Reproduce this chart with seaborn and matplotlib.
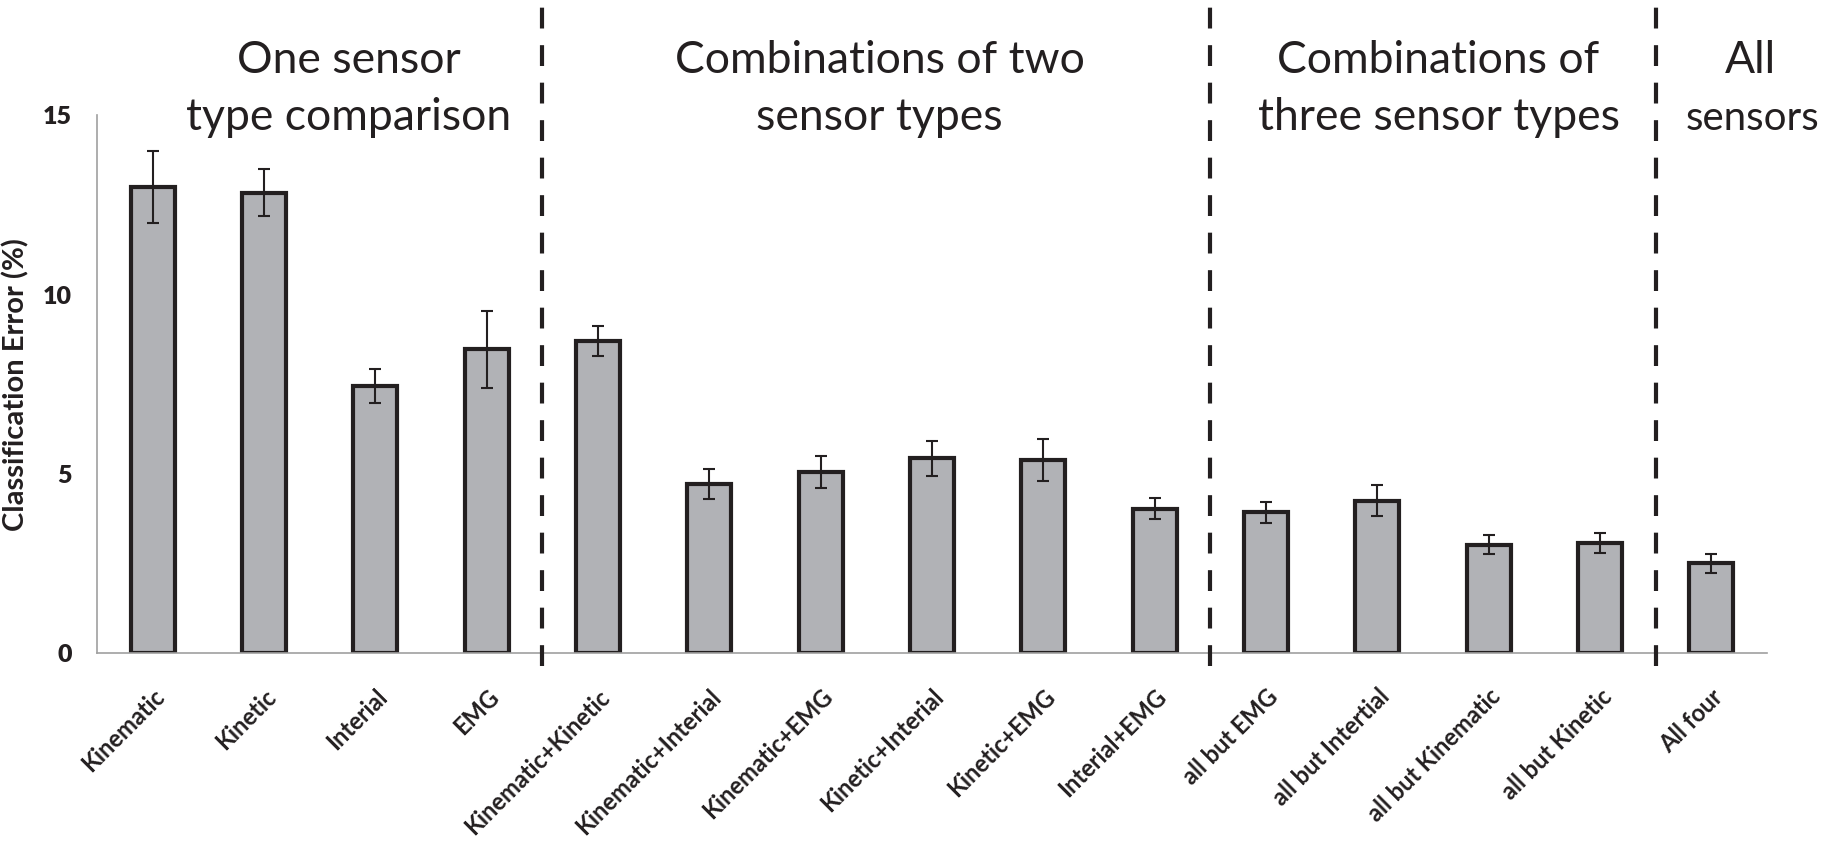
import numpy as np
import pandas as pd
import matplotlib
matplotlib.use("Agg")
import matplotlib.pyplot as plt
import matplotlib.transforms as mtransforms
import seaborn as sns

# values
labels = ["Kinematic", "Kinetic", "Interial", "EMG",
          "Kinematic+Kinetic", "Kinematic+Interial", "Kinematic+EMG",
          "Kinetic+Interial", "Kinetic+EMG", "Interial+EMG",
          "all but EMG", "all but Intertial", "all but Kinematic",
          "all but Kinetic", "All four"]
error_pct = [13.0, 12.85, 7.45, 8.47,
             8.70, 4.71, 5.06, 5.43, 5.39, 4.03,
             3.93, 4.25, 3.02, 3.08, 2.50]
error_sd = [1.0, 0.65, 0.48, 1.07,
            0.42, 0.42, 0.45, 0.50, 0.58, 0.30,
            0.29, 0.44, 0.26, 0.28, 0.26]

# group headings: (first line, second line), centred over these category positions
group_titles = [("One sensor", "type comparison"),
                ("Combinations of two", "sensor types"),
                ("Combinations of", "three sensor types")]
group_centers = [1.76, 6.53, 11.55]
group_breaks = [3.5, 9.5, 13.5]

ink = "#231f20"
bar_grey = "#b1b2b6"
axis_grey = "#a0a0a0"

sns.set_style("white")
plt.rcParams["font.family"] = ["Lato", "DejaVu Sans"]

df = pd.DataFrame({"label": labels, "err": error_pct, "sd": error_sd})

fig = plt.figure(figsize=(18.25, 8.41), dpi=100)
ax = fig.add_axes([0.0531, 0.2235, 0.9151, 0.6392])

sns.barplot(data=df, x="label", y="err", color=bar_grey, saturation=1,
            edgecolor=ink, linewidth=3.0, width=0.395, errorbar=None, ax=ax)
ax.errorbar(np.arange(len(labels)), df["err"], yerr=df["sd"], fmt="none",
            ecolor=ink, elinewidth=1.5, capsize=4.5, capthick=1.5, zorder=5)

ax.set_xlim(-0.5, len(labels) - 0.5)
ax.set_ylim(0, 15)
ax.set_yticks([0, 5, 10, 15])
ax.set_yticklabels(["0", "5", "10", "15"], fontsize=18, fontweight="heavy", color=ink)
ax.set_ylabel("Classification Error (%)", fontsize=21, fontweight="bold",
              color=ink, labelpad=10)
ax.set_xlabel("")

ax.set_xticks(np.arange(len(labels)))
ax.set_xticklabels(labels, rotation=45, ha="right", rotation_mode="anchor",
                   fontsize=17, fontweight="bold", color=ink)
ax.set_xticks(np.arange(-0.5, len(labels)), minor=True)
ax.tick_params(axis="x", which="major", length=0, pad=23)
ax.tick_params(axis="x", which="minor", length=9, width=1.2, color=axis_grey)
ax.tick_params(axis="y", which="major", length=7, width=1.2, color=axis_grey, pad=11)

for side in ["top", "right"]:
    ax.spines[side].set_visible(False)
for side in ["left", "bottom"]:
    ax.spines[side].set_color(axis_grey)
    ax.spines[side].set_linewidth(1.2)

# dashed separators between sensor groups, running up to the top of the figure
for xb in group_breaks:
    ax.plot([xb, xb], [-0.35, 18.4], color=ink, lw=3.0, ls=(0, (5, 4)),
            clip_on=False, zorder=6)

# headings: x in data units, y in figure fraction (baselines)
head_tr = mtransforms.blended_transform_factory(ax.transData, fig.transFigure)
line1_y, line2_y = 0.913, 0.845
for (l1, l2), xc in zip(group_titles, group_centers):
    ax.text(xc, line1_y, l1, transform=head_tr, ha="center", va="baseline",
            fontsize=32, color=ink, clip_on=False)
    ax.text(xc, line2_y, l2, transform=head_tr, ha="center", va="baseline",
            fontsize=32, color=ink, clip_on=False)
ax.text(14.35, line1_y, "All", transform=head_tr, ha="center", va="baseline",
        fontsize=32, color=ink, clip_on=False)
# last heading sits against the right edge of the figure
ax.text(0.997, line2_y, "sensors", transform=fig.transFigure, ha="right",
        va="baseline", fontsize=29, color=ink)

fig.savefig("out.png", dpi=100)
